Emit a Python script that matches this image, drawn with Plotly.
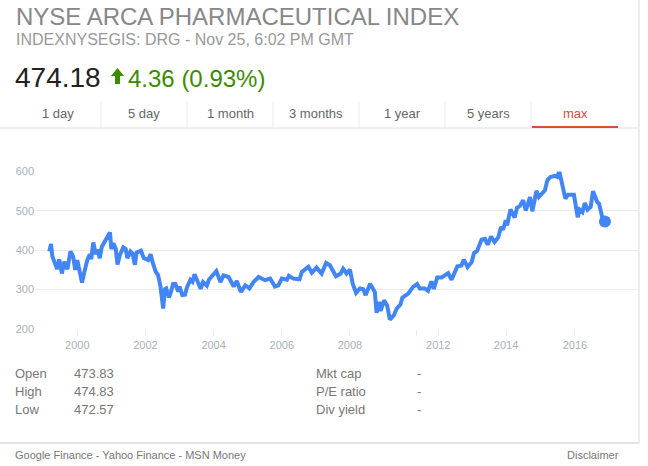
import plotly.graph_objects as go

W = 648
H = 466

# horizontal chart position: one unit is one labelled year up to 2010,
# the source axis then jumps, so 2012 sits at 2010.59 on this scale
positions = [
    1999.18, 1999.23, 1999.27, 1999.33, 1999.41, 1999.47, 1999.55, 1999.62, 1999.71, 1999.80,
    1999.88, 1999.94, 2000.00, 2000.06, 2000.14, 2000.20, 2000.29, 2000.37, 2000.41, 2000.47,
    2000.54, 2000.59, 2000.66, 2000.72, 2000.82, 2000.88, 2000.96, 2001.00, 2001.06, 2001.13,
    2001.18, 2001.25, 2001.35, 2001.42, 2001.47, 2001.56, 2001.62, 2001.69, 2001.74, 2001.87,
    2001.95, 2002.08, 2002.15, 2002.22, 2002.30, 2002.37, 2002.44, 2002.52, 2002.57, 2002.61,
    2002.69, 2002.75, 2002.81, 2002.88, 2002.96, 2003.00, 2003.08, 2003.16, 2003.22, 2003.32,
    2003.38, 2003.44, 2003.54, 2003.62, 2003.69, 2003.80, 2003.86, 2003.95, 2004.08, 2004.20,
    2004.29, 2004.44, 2004.59, 2004.68, 2004.80, 2004.93, 2005.05, 2005.17, 2005.32, 2005.51,
    2005.66, 2005.80, 2005.90, 2006.00, 2006.15, 2006.21, 2006.34, 2006.52, 2006.59, 2006.78,
    2006.88, 2007.02, 2007.17, 2007.30, 2007.41, 2007.59, 2007.73, 2007.80, 2007.90, 2008.00,
    2008.08, 2008.18, 2008.29, 2008.39, 2008.46, 2008.59, 2008.73, 2008.78, 2008.86, 2008.90,
    2009.00, 2009.09, 2009.17, 2009.29, 2009.37, 2009.48, 2009.54, 2009.71, 2009.85, 2009.97,
    2010.05, 2010.19, 2010.29, 2010.39, 2010.46, 2010.56, 2010.69, 2010.88, 2010.98, 2011.15,
    2011.27, 2011.34, 2011.45, 2011.57, 2011.64, 2011.73, 2011.86, 2011.96, 2012.04, 2012.14,
    2012.24, 2012.35, 2012.43, 2012.49, 2012.57, 2012.61, 2012.71, 2012.83, 2012.90, 2012.98,
    2013.08, 2013.16, 2013.28, 2013.35, 2013.47, 2013.54, 2013.62, 2013.72, 2013.79, 2013.88,
    2014.01, 2014.08, 2014.14, 2014.21, 2014.27, 2014.32, 2014.40, 2014.50, 2014.57, 2014.68,
    2014.74, 2014.82, 2014.89, 2014.97, 2015.06, 2015.13, 2015.25, 2015.31, 2015.40, 2015.48,
]
index_values = [
    397, 416, 384, 371, 352, 377, 341, 371, 352, 397,
    384, 350, 375, 350, 318, 342, 374, 390, 377, 420,
    390, 402, 380, 409, 426, 431, 445, 403, 418, 403,
    364, 388, 407, 403, 380, 397, 392, 363, 394, 399,
    380, 375, 390, 367, 346, 337, 309, 252, 301, 303,
    280, 295, 314, 314, 295, 308, 286, 287, 306, 325,
    320, 339, 320, 302, 319, 310, 325, 335, 347, 319,
    336, 332, 308, 322, 294, 311, 303, 319, 332, 324,
    328, 308, 311, 328, 325, 335, 328, 326, 345, 358,
    343, 356, 341, 368, 362, 334, 341, 353, 341, 351,
    315, 292, 303, 301, 286, 315, 294, 241, 269, 246,
    273, 260, 224, 235, 252, 262, 280, 290, 307, 314,
    303, 303, 297, 321, 302, 331, 331, 342, 325, 359,
    361, 376, 357, 370, 393, 398, 427, 429, 414, 435,
    421, 433, 459, 452, 476, 463, 504, 483, 508, 512,
    527, 501, 535, 499, 551, 535, 544, 552, 578, 586,
    589, 586, 601, 569, 544, 531, 541, 540, 541, 484,
    503, 497, 520, 503, 510, 550, 523, 518, 484, 473,
]

x_tick_positions = [2000, 2002, 2004, 2006, 2008, 2009.96, 2010.59, 2012.58, 2014.6]
x_tick_labels = ["2000", "2002", "2004", "2006", "2008", "", "2012", "2014", "2016"]
y_ticks = [200, 300, 400, 500, 600]

tab_labels = ["1 day", "5 day", "1 month", "3 months", "1 year", "5 years", "max"]
tab_centers = [58, 144, 230, 316, 402, 488, 575]
tab_edges = [101, 187, 273, 359, 445, 531]

left_stats = [("Open", "473.83"), ("High", "474.83"), ("Low", "472.57")]
right_stats = [("Mkt cap", "-"), ("P/E ratio", "-"), ("Div yield", "-")]
stat_rows = [373, 391, 409]

BLUE = "#4285f4"
GRID = "#ebebeb"
FONT = "Liberation Sans"


def px(x):
    return x / W


def py(y):
    return 1 - y / H


def label(text, x, y, size, color, anchor="left"):
    return dict(
        text=text, x=px(x), y=py(y), xref="paper", yref="paper",
        xanchor=anchor, yanchor="middle", showarrow=False,
        font=dict(family=FONT, size=size, color=color),
    )


def line(x0, y0, x1, y1, color, width=1):
    return dict(
        type="line", xref="paper", yref="paper", layer="below",
        x0=px(x0), y0=py(y0), x1=px(x1), y1=py(y1),
        line=dict(color=color, width=width),
    )


fig = go.Figure()
fig.add_trace(
    go.Scatter(
        x=positions, y=index_values, mode="lines", cliponaxis=False,
        line=dict(color=BLUE, width=4, shape="linear"), hoverinfo="skip",
    )
)
fig.add_trace(
    go.Scatter(
        x=positions[-1:], y=index_values[-1:], mode="markers", cliponaxis=False,
        marker=dict(color=BLUE, size=12), hoverinfo="skip",
    )
)

annotations = [
    label("NYSE ARCA PHARMACEUTICAL INDEX", 14, 16, 24, "#878787"),
    label("INDEXNYSEGIS: DRG - Nov 25, 6:02 PM GMT", 14, 39, 16, "#999999"),
    label("474.18", 13, 77, 28, "#222222"),
    label("4.36 (0.93%)", 126, 78, 24, "#3d8b00"),
    label("Google Finance - Yahoo Finance - MSN Money", 13, 455, 11, "#777777"),
    label("Disclaimer", 565, 455, 11, "#777777"),
]
for name, center in zip(tab_labels, tab_centers):
    color = "#dd4b39" if name == "max" else "#666666"
    annotations.append(label(name, center, 113, 13, color, anchor="center"))
for (name, value), row in zip(left_stats, stat_rows):
    annotations.append(label(name, 13, row, 13, "#777777"))
    annotations.append(label(value, 72, row, 13, "#777777"))
for (name, value), row in zip(right_stats, stat_rows):
    annotations.append(label(name, 314, row, 13, "#777777"))
    annotations.append(label(value, 415, row, 13, "#777777"))

shapes = [line(0, 128, 638, 128, GRID, 1.5), line(532, 127, 618, 127, "#dd4b39", 2)]
for edge in tab_edges:
    shapes.append(line(edge, 102, edge, 128, GRID))
# card shadow along the right and bottom edges
shapes.append(line(639, 0, 639, 443, "#ececec", 2))
shapes.append(line(0, 443, 639, 443, "#e2e2e2", 2))
# green up arrow beside the change
shapes.append(
    dict(
        type="path", xref="paper", yref="paper", fillcolor="#3d8b00", line=dict(width=0),
        path=(
            f"M {px(117.5)} {py(68)} L {px(124)} {py(76)} L {px(120)} {py(76)} "
            f"L {px(120)} {py(84)} L {px(115)} {py(84)} L {px(115)} {py(76)} "
            f"L {px(111)} {py(76)} Z"
        ),
    )
)

fig.update_xaxes(
    domain=[px(35), px(638)], range=[1998.76, 2016.45],
    tickmode="array", tickvals=x_tick_positions, ticktext=x_tick_labels,
    ticks="outside", ticklen=6, tickcolor=GRID, tickwidth=1,
    showgrid=False, zeroline=False, showline=False,
    tickfont=dict(family=FONT, size=11, color="#a8b0bd"),
)
fig.update_yaxes(
    domain=[py(329), py(171.5)], range=[200, 600],
    tickmode="array", tickvals=y_ticks,
    gridcolor=GRID, gridwidth=1, zeroline=False, showline=False,
    ticks="", tickfont=dict(family=FONT, size=11, color="#a8b0bd"),
)
fig.update_layout(
    width=W, height=H, margin=dict(l=0, r=0, t=0, b=0, autoexpand=False),
    paper_bgcolor="white", plot_bgcolor="white", showlegend=False,
    annotations=annotations, shapes=shapes,
)

fig.write_html(
    "out.html",
    config={"displayModeBar": False},
    post_script="document.body.style.margin = '0';",
)
